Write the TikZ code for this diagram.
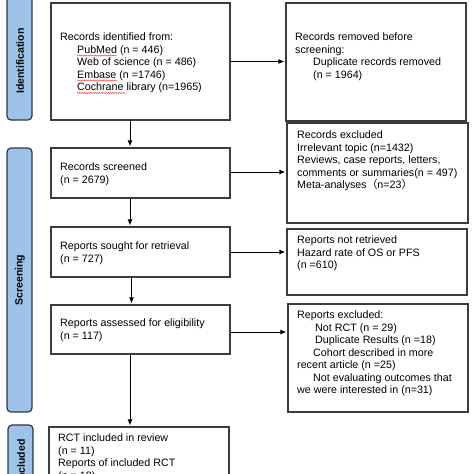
\documentclass[tikz,border=0pt]{standalone}
\usepackage{fontspec}
\setmainfont{Liberation Sans}
\newfontfamily\cjkfont{Noto Sans CJK SC}
\usetikzlibrary{arrows.meta,decorations.pathmorphing}
\definecolor{barfill}{RGB}{158,195,230}
\definecolor{barline}{RGB}{45,55,75}
\definecolor{boxline}{RGB}{60,60,60}
\tikzset{
  box/.style={draw=boxline, line width=1.2pt, inner sep=0pt},
  bar/.style={draw=barline, fill=barfill, line width=1.2pt, rounded corners=4pt},
  barlabel/.style={rotate=90, font=\fontsize{10.5}{12}\selectfont\bfseries},
  txt/.style={anchor=north west, inner sep=0pt, align=left, font=\fontsize{10.7}{12.5}\selectfont},
  arr/.style={-{Latex[length=6pt,width=5pt]}, line width=0.9pt, shorten >=1pt},
  squig/.style={draw=red!70, line width=0.5pt, decorate, decoration={snake, amplitude=0.6pt, segment length=2.2pt}}
}
\newcommand\fl{\rule{0pt}{8pt}}
\begin{document}
\begin{tikzpicture}[x=1pt,y=-1pt]
\useasboundingbox (0,0) rectangle (474,474);
\clip (0,0) rectangle (474,474);
\fill[white] (0,0) rectangle (474,474);
% side bars
\draw[bar] (7,-10) rectangle (32,120);
\node[barlabel] (lid) at (20,61) {Identification};
\draw[bar] (7,148) rectangle (32,412);
\node[barlabel] (lsc) at (20,280) {Screening};
\draw[bar] (8,425) rectangle (33,540);
\node[barlabel] (lin) at (21,461) {Included};
% boxes
\node[box, minimum width=179pt, minimum height=117pt] (b1) at (140.5,61.5) {};
\node[box, minimum width=180pt, minimum height=118pt] (b2) at (376,62) {};
\node[box, minimum width=179pt, minimum height=50pt] (b3) at (140.5,173) {};
\node[box, minimum width=181pt, minimum height=100pt] (b4) at (377.5,173) {};
\node[box, minimum width=179pt, minimum height=50pt] (b5) at (140.5,252) {};
\node[box, minimum width=180pt, minimum height=66pt] (b6) at (377,262) {};
\node[box, minimum width=179pt, minimum height=49pt] (b7) at (140.5,329.5) {};
\node[box, minimum width=180pt, minimum height=108pt] (b8) at (378,358) {};
\node[box, minimum width=180pt, minimum height=93pt] (b9) at (139,473.5) {};
% texts
\node[txt] (t1) at (60,32.5) {\fl Records identified from:\\
\hspace*{17pt}PubMed (n = 446)\\
\hspace*{17pt}Web of science (n = 486)\\
\hspace*{17pt}Embase (n =1746)\\
\hspace*{17pt}Cochrane library (n=1965)};
\draw[squig] (77,55.5) -- (117,55.5);
\draw[squig] (77,80.5) -- (117,80.5);
\draw[squig] (77,93) -- (126,93);
\node[txt] (t2) at (295,32.5) {\fl Records removed before\\
screening:\\
\hspace*{18pt}Duplicate records removed\\
\hspace*{18pt}(n = 1964)};
\node[txt] (t3) at (60,162.5) {\fl Records screened\\(n = 2679)};
\node[txt] (t4) at (297,130.5) {\fl Records excluded\\
Irrelevant topic (n=1432)\\
Reviews, case reports, letters,\\
comments or summaries(n = 497)\\
Meta-analyses{\cjkfont （}n=23{\cjkfont ）}};
\node[txt] (t5) at (60,241.5) {\fl Reports sought for retrieval\\(n = 727)};
\node[txt] (t6) at (297,235.5) {\fl Reports not retrieved\\
Hazard rate of OS or PFS\\
(n =610)};
\node[txt] (t7) at (60,318.5) {\fl Reports assessed for eligibility\\(n = 117)};
\node[txt] (t8) at (297,310.5) {\fl Reports excluded:\\
\hspace*{18pt}Not RCT (n = 29)\\
\hspace*{18pt}Duplicate Results (n =18)\\
\hspace*{16pt}Cohort described in more\\
recent article (n =25)\\
\hspace*{16pt}Not evaluating outcomes that\\
we were interested in (n=31)};
\node[txt] (t9) at (58,433.5) {\fl RCT included in review\\
(n = 11)\\
Reports of included RCT\\
(n = 18)};
% connectors
\coordinate (ax) at (130,0);
\coordinate (ay) at (131.5,0);
\draw[arr] (b1.south -| ax) -- (b3.north -| ax);
\draw[arr] (b3.south -| ax) -- (b5.north -| ax);
\draw[arr] (b5.south -| ay) -- (b7.north -| ay);
\draw[arr] (b7.south -| ax) -- (b9.north -| ax);
\draw[arr] (b1.east) -- (b2.west |- b1.east);
\coordinate (c3) at ([yshift=1pt]b3.east);
\draw[arr] (c3) -- (b4.west |- c3);
\draw[arr] (b5.east) -- (b6.west |- b5.east);
\coordinate (c7) at ([yshift=-2.5pt]b7.east);
\draw[arr] (c7) -- (b8.west |- c7);
\end{tikzpicture}
\end{document}
